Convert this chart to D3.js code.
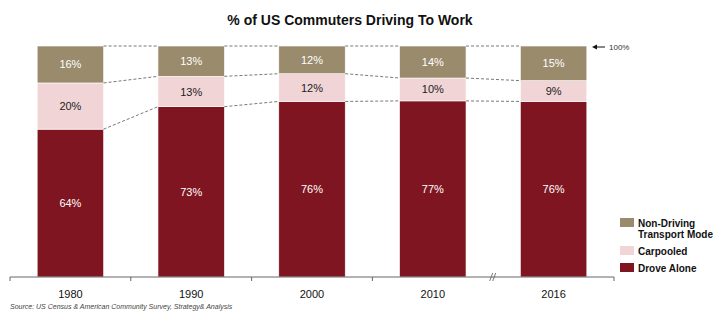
<!DOCTYPE html>
<html lang="en">
<head>
    <meta charset="UTF-8">
    <title>% of US Commuters Driving To Work</title>
    <script src="https://d3js.org/d3.v7.min.js"></script>
    <style>
        body { margin: 0; background: #fff; }
        svg { font-family: "Liberation Sans", Arial, sans-serif; display: block; }
    </style>
</head>
<body>
    <div id="chart"></div>
    <script>
        // data
        const years = ["1980", "1990", "2000", "2010", "2016"];
        const droveAlone = [64, 73, 76, 77, 76];
        const carpooled = [20, 13, 12, 10, 9];
        const nonDriving = [16, 13, 12, 14, 15];
        const seriesNames = ["Drove Alone", "Carpooled", "Non-Driving Transport Mode"];
        const colors = ["#7e1520", "#f1d5d6", "#9a8b6d"];
        const labelColors = ["#fff", "#222", "#fff"];

        const width = 723, height = 323;
        const svg = d3.select("#chart").append("svg")
            .attr("width", width)
            .attr("height", height);

        const rows = years.map((y, i) => ({
            year: y,
            "Drove Alone": droveAlone[i],
            "Carpooled": carpooled[i],
            "Non-Driving Transport Mode": nonDriving[i]
        }));

        // every bar goes up to 100%
        const stack = d3.stack().keys(seriesNames).offset(d3.stackOffsetExpand);
        const series = stack(rows);

        const x = d3.scaleBand().domain(years).range([10, 614]).paddingInner(0.45).paddingOuter(0.225);
        const y = d3.scaleLinear().domain([0, 1]).range([277, 46]);

        // title
        svg.append("text")
            .attr("x", 350).attr("y", 25)
            .attr("text-anchor", "middle")
            .attr("font-size", 14).attr("font-weight", "bold")
            .attr("fill", "#111")
            .text("% of US Commuters Driving To Work");

        // bars
        const groups = svg.append("g").selectAll("g")
            .data(series).enter().append("g")
            .attr("fill", (d, i) => colors[i]);

        groups.selectAll("rect")
            .data(d => d).enter().append("rect")
            .attr("x", d => x(d.data.year))
            .attr("y", d => y(d[1]))
            .attr("width", x.bandwidth())
            .attr("height", d => y(d[0]) - y(d[1]))
            .attr("stroke", "#fff")
            .attr("stroke-width", 0.6);

        // dashed connectors between bars at each segment top
        series.forEach(s => {
            for (let i = 0; i < s.length - 1; i++) {
                svg.append("line")
                    .attr("x1", x(years[i]) + x.bandwidth())
                    .attr("x2", x(years[i + 1]))
                    .attr("y1", y(s[i][1]))
                    .attr("y2", y(s[i + 1][1]))
                    .attr("stroke", "#555")
                    .attr("stroke-width", 0.8)
                    .attr("stroke-dasharray", "3,2");
            }
        });

        // value labels
        series.forEach((s, si) => {
            svg.append("g").selectAll("text")
                .data(s).enter().append("text")
                .attr("x", d => x(d.data.year) + x.bandwidth() / 2)
                .attr("y", d => (y(d[0]) + y(d[1])) / 2 + 4)
                .attr("text-anchor", "middle")
                .attr("font-size", 11)
                .attr("fill", labelColors[si])
                .text(d => d.data[s.key] + "%");
        });

        // x axis
        const axisY = 277;
        svg.append("line")
            .attr("x1", 10).attr("x2", 614)
            .attr("y1", axisY).attr("y2", axisY)
            .attr("stroke", "#666").attr("stroke-width", 1);
        const ticks = d3.range(years.length + 1).map(i => 10 + i * x.step());
        ticks.forEach((t, i) => {
            if (i === 4) return; // break mark instead
            svg.append("line")
                .attr("x1", t).attr("x2", t)
                .attr("y1", axisY).attr("y2", axisY + 4)
                .attr("stroke", "#666");
        });
        // axis break
        const bx = ticks[4];
        [-2, 1].forEach(o => {
            svg.append("line")
                .attr("x1", bx + o - 1.5).attr("x2", bx + o + 1.5)
                .attr("y1", axisY + 4).attr("y2", axisY - 4)
                .attr("stroke", "#555").attr("stroke-width", 0.8);
        });

        svg.append("g").selectAll("text")
            .data(years).enter().append("text")
            .attr("x", d => x(d) + x.bandwidth() / 2)
            .attr("y", 298)
            .attr("text-anchor", "middle")
            .attr("font-size", 11)
            .attr("fill", "#111")
            .text(d => d);

        // 100% marker
        svg.append("line")
            .attr("x1", 605).attr("x2", 595)
            .attr("y1", 47).attr("y2", 47)
            .attr("stroke", "#111").attr("stroke-width", 1);
        svg.append("path")
            .attr("d", "M592,47 L597,44.5 L597,49.5 Z")
            .attr("fill", "#111");
        svg.append("text")
            .attr("x", 609).attr("y", 50)
            .attr("font-size", 8)
            .attr("fill", "#333")
            .text("100%");

        // legend
        const legend = [
            { name: "Non-Driving", name2: "Transport Mode", color: colors[2], y: 218 },
            { name: "Carpooled", color: colors[1], y: 246 },
            { name: "Drove Alone", color: colors[0], y: 263 }
        ];
        legend.forEach(l => {
            svg.append("rect")
                .attr("x", 620).attr("y", l.y)
                .attr("width", 14).attr("height", 9)
                .attr("fill", l.color);
            svg.append("text")
                .attr("x", 638).attr("y", l.y + 8.5)
                .attr("font-size", 10).attr("font-weight", "bold")
                .attr("fill", "#111")
                .text(l.name);
            if (l.name2) {
                svg.append("text")
                    .attr("x", 638).attr("y", l.y + 20)
                    .attr("font-size", 10).attr("font-weight", "bold")
                    .attr("fill", "#111")
                    .text(l.name2);
            }
        });

        // source
        svg.append("text")
            .attr("x", 10).attr("y", 309)
            .attr("font-size", 7).attr("font-style", "italic")
            .attr("fill", "#444")
            .text("Source: US Census & American Community Survey, Strategy& Analysis");
    </script>
</body>
</html>
